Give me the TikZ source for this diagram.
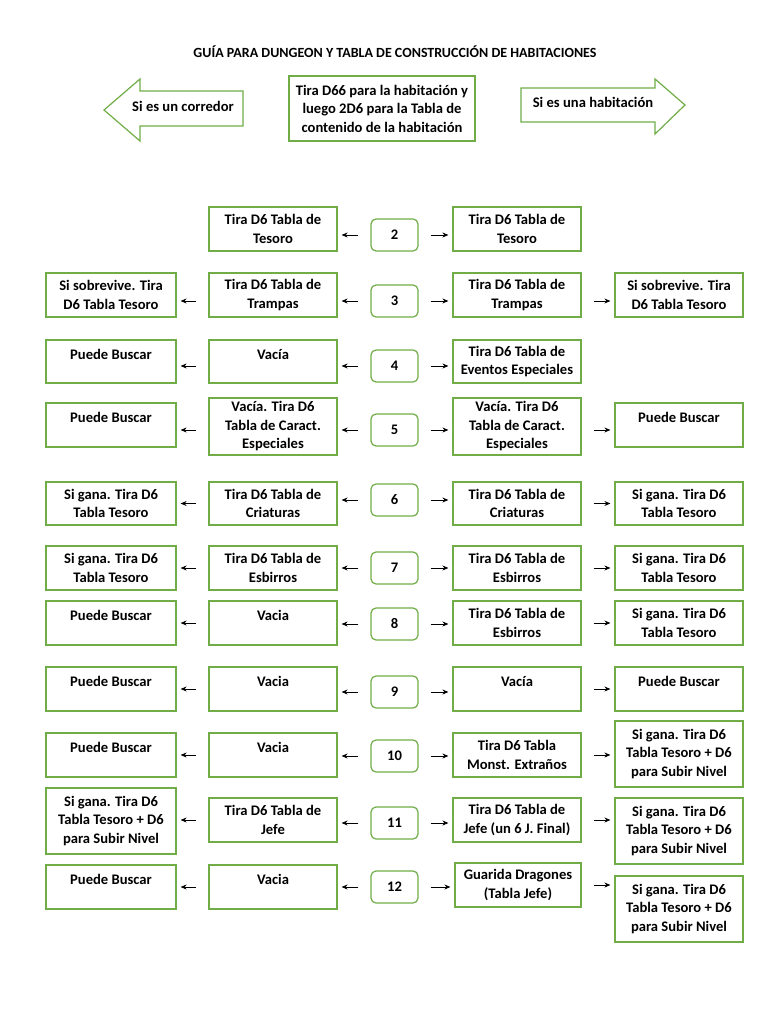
\documentclass[tikz,border=0pt]{standalone}
\usepackage{fontspec}
\setmainfont{Carlito}
\usetikzlibrary{arrows.meta}
\definecolor{gr}{RGB}{112,173,71}
\tikzset{
  bx/.style={draw=gr,line width=1.2pt,inner sep=0pt},
  tx/.style={font=\bfseries\fontsize{14.6}{18.5}\selectfont,align=center,inner sep=0pt},
  nb/.style={draw=gr,line width=1.2pt,rounded corners=5pt,minimum width=47pt,minimum height=32pt,font=\bfseries\fontsize{14.6}{15}\selectfont},
  ar/.style={-{Stealth[length=6pt,width=5pt]},line width=0.8pt,shorten <=12pt,shorten >=4pt},
  bigar/.style={draw=gr,line width=1.2pt,fill=white}
}
\newcommand{\mybox}[7]{%
  \node[bx,minimum width={#4-#2},minimum height={#5-#3}] (#1) at ({(#2+#4)/2},{(#3+#5)/2}) {};
  \if#7t
    \node[tx,anchor=north] (#1t) at ([yshift=-10pt]#1.north) {#6};
  \else
    \node[tx] (#1t) at (#1.center) {#6};
  \fi}
% \rowar{n}{b}{c}
\newcommand{\rar}[2]{\draw[ar] (#1.west) -- (#2.east |- #1.west);}
\newcommand{\rarr}[2]{\draw[ar] (#1.east) -- (#2.west |- #1.east);}
\newcommand{\lar}[3]{\draw[ar] (#1.west |- #3) -- (#2.east |- #3);}
\newcommand{\larr}[3]{\draw[ar] (#1.east |- #3) -- (#2.west |- #3);}
\begin{document}
\begin{tikzpicture}[x=1pt,y=-1pt]
\useasboundingbox (0,0) rectangle (768,1024);
\node[font=\bfseries\fontsize{14}{16}\selectfont] (title) at (395,52) {GUÍA PARA DUNGEON Y TABLA DE CONSTRUCCIÓN DE HABITACIONES};
\draw[bigar] (104,110) -- (140,79) -- (140,91) -- (243,91) -- (243,126) -- (140,126) -- (140,141) -- cycle;
\node[tx] (lt) at (183,106) {Si es un corredor};
\draw[bigar] (685,105) -- (655,79) -- (655,88) -- (521,88) -- (521,122) -- (655,122) -- (655,134) -- cycle;
\node[tx] (rt) at (593,102) {Si es una habitación};
\mybox{top}{289}{76}{475}{141}{Tira D66 para la habitación y\\luego 2D6 para la Tabla de\\contenido de la habitación}{c}

\node[nb] (n2) at (394.5,235) {2};
\mybox{b2}{209}{207}{337}{251}{Tira D6 Tabla de\\Tesoro}{c}
\mybox{c2}{453}{207}{581}{251}{Tira D6 Tabla de\\Tesoro}{c}
\rar{n2}{b2} \rarr{n2}{c2}

\node[nb] (n3) at (394.5,301) {3};
\mybox{a3}{46}{273}{176}{317}{Si sobrevive. Tira\\D6 Tabla Tesoro}{c}
\mybox{b3}{209}{273}{337}{317}{Tira D6 Tabla de\\Trampas}{c}
\mybox{c3}{453}{273}{581}{317}{Tira D6 Tabla de\\Trampas}{c}
\mybox{d3}{615}{273}{743}{317}{Si sobrevive. Tira\\D6 Tabla Tesoro}{c}
\rar{n3}{b3} \rarr{n3}{c3} \lar{b3}{a3}{n3} \larr{c3}{d3}{n3}

\node[nb] (n4) at (394.5,366) {4};
\mybox{a4}{46}{340}{176}{383}{Puede Buscar}{t}
\mybox{b4}{209}{340}{337}{383}{Vacía}{t}
\mybox{c4}{453}{340}{581}{383}{Tira D6 Tabla de\\Eventos Especiales}{c}
\rar{n4}{b4} \rarr{n4}{c4} \lar{b4}{a4}{n4}

\node[nb] (n5) at (394.5,430) {5};
\mybox{a5}{46}{403}{176}{447}{Puede Buscar}{t}
\mybox{b5}{209}{398}{337}{455}{Vacía. Tira D6\\Tabla de Caract.\\Especiales}{c}
\mybox{c5}{453}{398}{581}{455}{Vacía. Tira D6\\Tabla de Caract.\\Especiales}{c}
\mybox{d5}{615}{403}{743}{447}{Puede Buscar}{t}
\rar{n5}{b5} \rarr{n5}{c5} \lar{b5}{a5}{n5} \larr{c5}{d5}{n5}

\node[nb] (n6) at (394.5,500) {6};
\mybox{a6}{46}{482}{176}{525}{Si gana. Tira D6\\Tabla Tesoro}{c}
\mybox{b6}{209}{482}{337}{525}{Tira D6 Tabla de\\Criaturas}{c}
\mybox{c6}{453}{482}{581}{525}{Tira D6 Tabla de\\Criaturas}{c}
\mybox{d6}{615}{482}{743}{525}{Si gana. Tira D6\\Tabla Tesoro}{c}
\rar{n6}{b6} \rarr{n6}{c6} \lar{b6}{a6}{b6} \larr{c6}{d6}{c6}

\node[nb] (n7) at (394.5,568) {7};
\mybox{a7}{46}{546}{176}{590}{Si gana. Tira D6\\Tabla Tesoro}{c}
\mybox{b7}{209}{546}{337}{590}{Tira D6 Tabla de\\Esbirros}{c}
\mybox{c7}{453}{546}{581}{590}{Tira D6 Tabla de\\Esbirros}{c}
\mybox{d7}{615}{546}{743}{590}{Si gana. Tira D6\\Tabla Tesoro}{c}
\rar{n7}{b7} \rarr{n7}{c7} \lar{b7}{a7}{b7} \larr{c7}{d7}{c7}

\node[nb] (n8) at (394.5,624) {8};
\mybox{a8}{46}{601}{176}{645}{Puede Buscar}{t}
\mybox{b8}{209}{601}{337}{645}{Vacia}{t}
\mybox{c8}{453}{601}{581}{645}{Tira D6 Tabla de\\Esbirros}{c}
\mybox{d8}{615}{601}{743}{645}{Si gana. Tira D6\\Tabla Tesoro}{c}
\rar{n8}{b8} \rarr{n8}{c8} \lar{b8}{a8}{b8} \larr{c8}{d8}{c8}

\node[nb] (n9) at (394.5,692) {9};
\mybox{a9}{46}{667}{176}{711}{Puede Buscar}{t}
\mybox{b9}{209}{667}{337}{711}{Vacia}{t}
\mybox{c9}{453}{667}{581}{711}{Vacía}{t}
\mybox{d9}{615}{667}{743}{711}{Puede Buscar}{t}
\rar{n9}{b9} \rarr{n9}{c9} \lar{b9}{a9}{b9} \larr{c9}{d9}{c9}

\node[nb] (n10) at (394.5,756) {10};
\mybox{a10}{46}{733}{176}{777}{Puede Buscar}{t}
\mybox{b10}{209}{733}{337}{777}{Vacia}{t}
\mybox{c10}{453}{733}{581}{777}{Tira D6 Tabla\\Monst. Extraños}{c}
\mybox{d10}{615}{721}{743}{787}{Si gana. Tira D6\\Tabla Tesoro + D6\\para Subir Nivel}{c}
\rar{n10}{b10} \rarr{n10}{c10} \lar{b10}{a10}{b10} \larr{c10}{d10}{c10}

\node[nb] (n11) at (394.5,823) {11};
\mybox{a11}{46}{788}{176}{854}{Si gana. Tira D6\\Tabla Tesoro + D6\\para Subir Nivel}{c}
\mybox{b11}{209}{798}{337}{842}{Tira D6 Tabla de\\Jefe}{c}
\mybox{c11}{453}{798}{581}{842}{Tira D6 Tabla de\\Jefe (un 6 J. Final)}{c}
\mybox{d11}{615}{798}{743}{864}{Si gana. Tira D6\\Tabla Tesoro + D6\\para Subir Nivel}{c}
\rar{n11}{b11} \rarr{n11}{c11} \lar{b11}{a11}{b11} \larr{c11}{d11}{c11}

\node[nb] (n12) at (394.5,887) {12};
\mybox{a12}{46}{865}{176}{909}{Puede Buscar}{t}
\mybox{b12}{209}{865}{337}{909}{Vacia}{t}
\mybox{c12}{455}{863}{581}{907}{Guarida Dragones\\(Tabla Jefe)}{c}
\mybox{d12}{615}{876}{743}{942}{Si gana. Tira D6\\Tabla Tesoro + D6\\para Subir Nivel}{c}
\rar{n12}{b12} \rarr{n12}{c12} \lar{b12}{a12}{b12} \larr{c12}{d12}{c12}
\end{tikzpicture}
\end{document}
